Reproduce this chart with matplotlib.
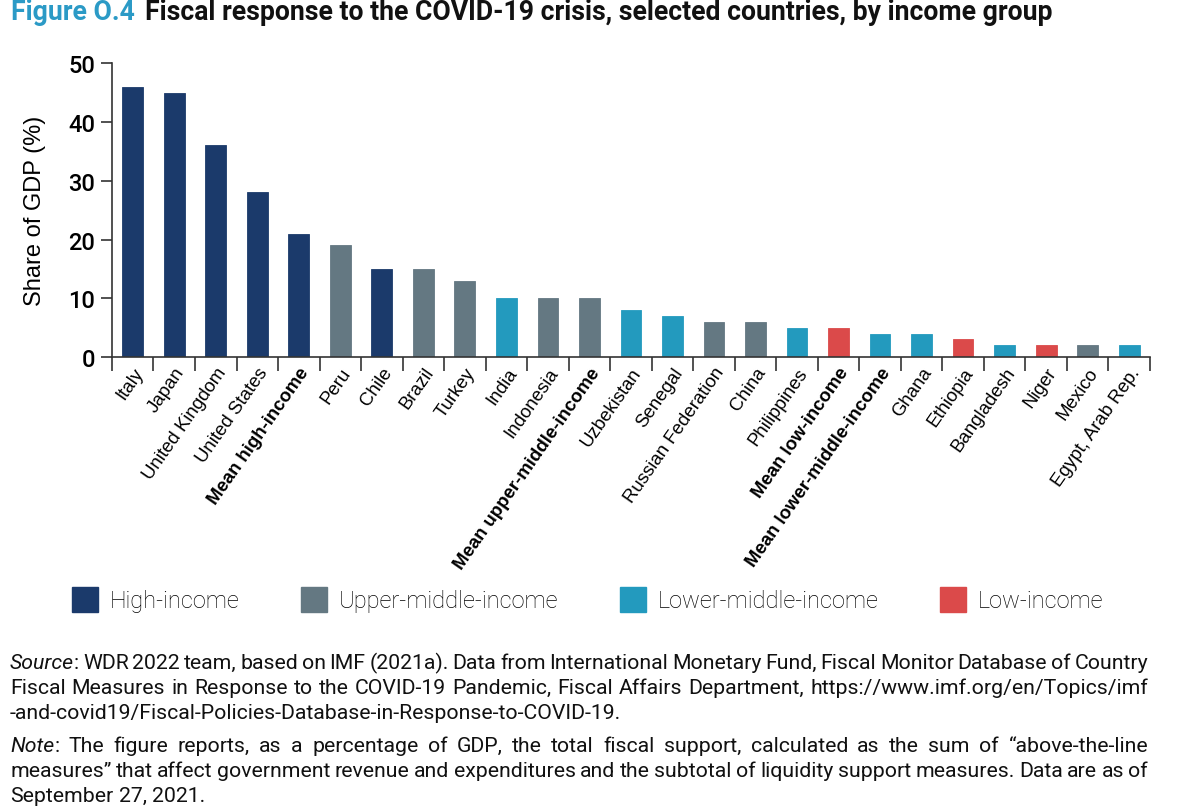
import matplotlib.pyplot as plt
import numpy as np
from matplotlib.patches import Patch

countries = [
    "Italy", "Japan", "United Kingdom", "United States", "Mean high-income",
    "Peru", "Chile", "Brazil", "Turkey", "India", "Indonesia",
    "Mean upper-middle-income", "Uzbekistan", "Senegal", "Russian Federation",
    "China", "Philippines", "Mean low-income", "Mean lower-middle-income",
    "Ghana", "Ethiopia", "Bangladesh", "Niger", "Mexico", "Egypt, Arab Rep.",
]
share_gdp = [46, 45, 36, 28, 21, 19, 15, 15, 13, 10, 10, 10, 8, 7, 6, 6, 5, 5,
             4, 4, 3, 2, 2, 2, 2]
groups = ["H", "H", "H", "H", "H", "U", "H", "U", "U", "L", "U", "U", "L", "L",
          "U", "U", "L", "Lo", "L", "L", "Lo", "L", "Lo", "U", "L"]

group_names = {"H": "High-income", "U": "Upper-middle-income",
               "L": "Lower-middle-income", "Lo": "Low-income"}
group_colors = {"H": "#1b3a6b", "U": "#647882", "L": "#239abe", "Lo": "#db4a4a"}

source_lines = [
    ("Source: WDR 2022 team, based on IMF (2021a). Data from International Monetary "
     "Fund, Fiscal Monitor Database of Country", True),
    ("Fiscal Measures in Response to the COVID-19 Pandemic, Fiscal Affairs "
     "Department, https://www.imf.org/en/Topics/imf", True),
    ("-and-covid19/Fiscal-Policies-Database-in-Response-to-COVID-19.", False),
]
note_lines = [
    ("Note: The figure reports, as a percentage of GDP, the total fiscal support, "
     "calculated as the sum of \u201cabove-the-line", True),
    ("measures\u201d that affect government revenue and expenditures and the subtotal "
     "of liquidity support measures. Data are as of", True),
    ("September 27, 2021.", False),
]

NOTE_SIZE = 15.3

fig = plt.figure(figsize=(12, 8.12), dpi=100)
ax = fig.add_axes([0.0933, 0.559, 0.865, 0.362])

x = np.arange(len(countries))
colors = [group_colors[g] for g in groups]
ax.bar(x, share_gdp, width=0.5, color=colors, edgecolor=colors, linewidth=0.6,
       zorder=2)

ax.set_xlim(-0.5, len(countries) - 0.5)
ax.set_ylim(0, 50)
ax.set_yticks(range(0, 51, 10))
ax.set_yticklabels([str(v) for v in range(0, 51, 10)],
                   fontfamily="Roboto", fontweight="medium", fontsize=17)

# major ticks sit between bars, labels hang on minor ticks at bar centres
ax.set_xticks(list(x - 0.5) + [len(countries) - 0.5])
ax.set_xticklabels([])
ax.tick_params(axis="x", which="major", length=10, width=1.2, color="#333333")
ax.set_xticks(x, minor=True)
ax.set_xticklabels(countries, minor=True, rotation=55, ha="right",
                   rotation_mode="anchor", fontfamily="Liberation Sans",
                   fontsize=13.4)
ax.tick_params(axis="x", which="minor", length=0, pad=5)
for lab in ax.get_xticklabels(minor=True):
    if lab.get_text().startswith("Mean"):
        lab.set_fontweight("bold")
ax.tick_params(axis="y", length=8, width=1.2, color="#333333", pad=4)

for side in ("top", "right"):
    ax.spines[side].set_visible(False)
for side in ("left", "bottom"):
    ax.spines[side].set_color("#333333")
    ax.spines[side].set_linewidth(1.2)

ax.set_ylabel("Share of GDP (%)", fontfamily="Liberation Sans", fontsize=17,
              labelpad=16)

# title
t1 = fig.text(0.009, 0.975, "Figure O.4", fontfamily="Roboto", fontweight="bold",
              fontsize=19.2, color="#2b9ac6", va="baseline")
fig.canvas.draw()
ren = fig.canvas.get_renderer()
bb = t1.get_window_extent(ren)
fig.text((bb.x1 + 10) / fig.bbox.width, 0.975,
         "Fiscal response to the COVID-19 crisis, selected countries, by income group",
         fontfamily="Roboto", fontweight="bold", fontsize=19.2, color="#111111",
         va="baseline")

# legend
handles = [Patch(facecolor=group_colors[k], edgecolor=group_colors[k],
                 label=group_names[k]) for k in ("H", "U", "L", "Lo")]
leg = fig.legend(handles=handles, loc="center left", bbox_to_anchor=(0.06, 0.26),
                 ncol=4, frameon=False, handlelength=1.1, handleheight=1.2,
                 columnspacing=2.6, handletextpad=0.5, borderpad=0,
                 borderaxespad=0,
                 prop={"family": "Roboto", "weight": "light", "size": 17})
for t in leg.get_texts():
    t.set_color("#000000")


def draw_justified(text, y_px, justify):
    # draw a footnote line word by word, spreading words across the line
    x0, x1 = 10, 1148
    words = text.split(" ")
    items = []
    for i, w in enumerate(words):
        if i == 0 and w.endswith(":") and w[:-1] in ("Source", "Note"):
            a = fig.text(0, 0, w[:-1], fontfamily="Roboto", fontstyle="italic",
                         fontsize=NOTE_SIZE, color="#111111", va="baseline")
            b = fig.text(0, 0, ":", fontfamily="Roboto", fontsize=NOTE_SIZE,
                         color="#111111", va="baseline")
            items.append([a, b])
        else:
            items.append([fig.text(0, 0, w, fontfamily="Roboto", fontsize=NOTE_SIZE,
                                   color="#111111", va="baseline")])
    widths = [[p.get_window_extent(ren).width for p in it] for it in items]
    total = sum(sum(w) for w in widths)
    probe2 = fig.text(0, 0, "a a", fontfamily="Roboto", fontsize=NOTE_SIZE)
    probe1 = fig.text(0, 0, "aa", fontfamily="Roboto", fontsize=NOTE_SIZE)
    sw = probe2.get_window_extent(ren).width - probe1.get_window_extent(ren).width
    probe2.remove()
    probe1.remove()
    gap = (x1 - x0 - total) / (len(items) - 1) if justify else sw
    xp = x0
    yf = 1 - y_px / fig.bbox.height
    for it, ws in zip(items, widths):
        for p, w in zip(it, ws):
            p.set_position((xp / fig.bbox.width, yf))
            xp += w
        xp += gap


fig.canvas.draw()
ren = fig.canvas.get_renderer()
for (line, just), y in zip(source_lines, [669, 694, 719]):
    draw_justified(line, y, just)
for (line, just), y in zip(note_lines, [752, 777, 802]):
    draw_justified(line, y, just)

fig.savefig("out.png", dpi=100)
